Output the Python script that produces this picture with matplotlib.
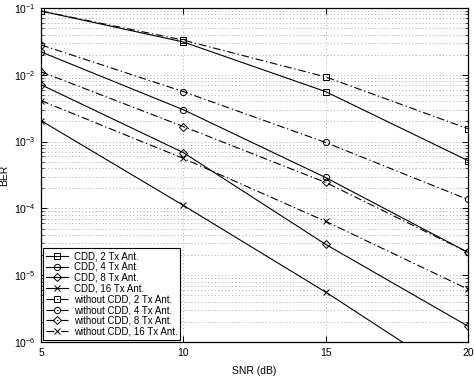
import matplotlib
matplotlib.use("Agg")
import matplotlib.pyplot as plt
from matplotlib.ticker import LogLocator, NullFormatter, FixedLocator

plt.rcParams['font.family'] = ['Liberation Sans', 'DejaVu Sans']
plt.rcParams['mathtext.fontset'] = 'custom'
plt.rcParams['mathtext.rm'] = 'Liberation Sans'

snr = [5, 10, 15, 20]
cdd_2 = [0.09, 0.031, 0.0056, 5.2e-4]
cdd_4 = [0.022, 0.003, 2.9e-4, 2.2e-5]
cdd_8 = [0.0071, 6.85e-4, 2.9e-5, 1.73e-6]
cdd_16 = [0.00206, 1.11e-4, 5.6e-6, 2.3e-7]
nocdd_2 = [0.09, 0.033, 0.0093, 1.56e-3]
nocdd_4 = [0.028, 0.0056, 9.7e-4, 1.36e-4]
nocdd_8 = [0.0111, 0.00168, 2.45e-4, 2.2e-5]
nocdd_16 = [0.0041, 5.6e-4, 6.4e-5, 6.2e-6]

labels = ["CDD, 2 Tx Ant.", "CDD, 4 Tx Ant.", "CDD, 8 Tx Ant.", "CDD, 16 Tx Ant.",
          "without CDD, 2 Tx Ant.", "without CDD, 4 Tx Ant.",
          "without CDD, 8 Tx Ant.", "without CDD, 16 Tx Ant."]
markers = ['s', 'o', 'D', 'x']

fig = plt.figure(figsize=(4.74, 3.79), dpi=100)
ax = fig.add_axes([0.0865, 0.0976, 0.9005, 0.8814])

dashdot = (0, (7, 2.5, 1.2, 2.5))
series = [cdd_2, cdd_4, cdd_8, cdd_16]
for i, ys in enumerate(series):
    m = markers[i]
    ax.plot(snr, ys, color='black', lw=0.8, ls='-', marker=m,
            ms=4.5 if m != 'D' else 3.8, mfc='none', mec='black', mew=0.7,
            label=labels[i])
series2 = [nocdd_2, nocdd_4, nocdd_8, nocdd_16]
for i, ys in enumerate(series2):
    m = markers[i]
    ax.plot(snr, ys, color='black', lw=0.8, ls=dashdot, marker=m,
            ms=4.5 if m != 'D' else 3.8, mfc='none', mec='black', mew=0.7,
            label=labels[4 + i])

ax.set_yscale('log')
ax.set_xlim(5, 20)
ax.set_ylim(1e-6, 1e-1)
ax.xaxis.set_major_locator(FixedLocator([5, 10, 15, 20]))
ax.yaxis.set_major_locator(LogLocator(base=10, numticks=10))
ax.yaxis.set_minor_locator(LogLocator(base=10, subs=range(2, 10), numticks=20))
ax.yaxis.set_minor_formatter(NullFormatter())

ax.grid(True, which='major', axis='both', color='#aaaaaa', ls=(0, (1, 2.5)), lw=0.7)
ax.grid(True, which='minor', axis='y', color='#aaaaaa', ls=(0, (1, 2.5)), lw=0.7)

ax.tick_params(which='both', direction='in', top=True, right=True, labelsize=7.5)
ax.tick_params(which='major', length=4, width=0.7, pad=4)
ax.tick_params(which='minor', length=2, width=0.5)
for s in ax.spines.values():
    s.set_linewidth(0.9)

ax.set_xlabel("SNR (dB)", fontsize=7.5, labelpad=6)
ax.set_ylabel("BER", fontsize=7.5, labelpad=3)

leg = ax.legend(loc='lower left', fontsize=7, frameon=True, fancybox=False,
                edgecolor='black', framealpha=1, labelspacing=0.08,
                handlelength=2.2, handletextpad=0.6, borderpad=0.3,
                borderaxespad=0.25)
leg.get_frame().set_linewidth(0.8)

fig.savefig("out.png", dpi=100)
